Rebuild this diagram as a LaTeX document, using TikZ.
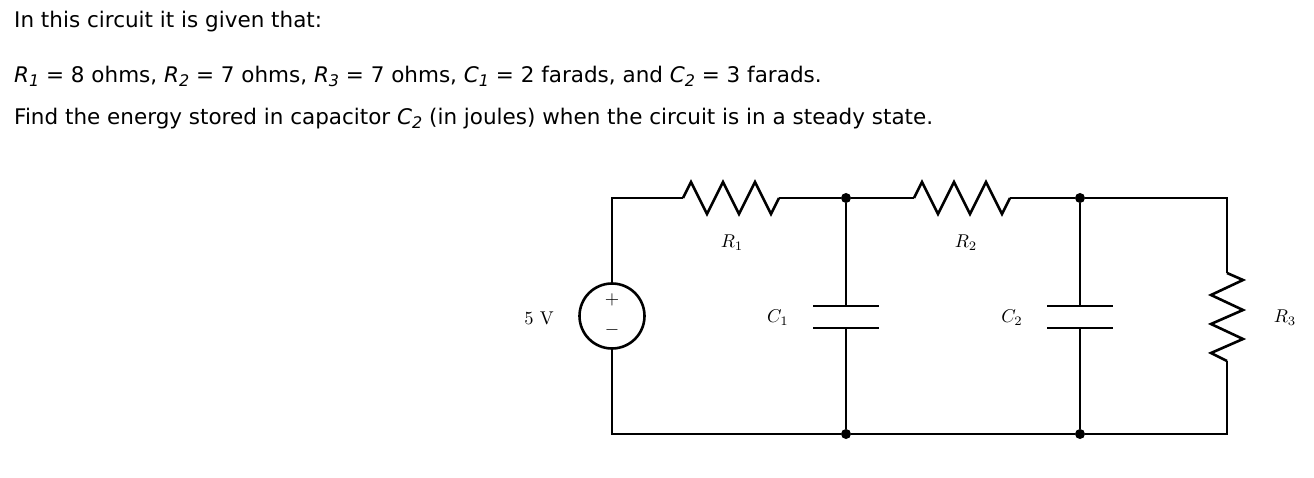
\documentclass[tikz,border=0pt]{standalone}
\usepackage{fontspec}
\newfontfamily\qfont{DejaVu Sans}
\begin{document}
\begin{tikzpicture}[x=1pt,y=-1pt,
  wire/.style={line width=1.6pt},
  thick el/.style={line width=2.6pt},
  dot/.style={circle,fill=black,inner sep=0pt,minimum size=10pt},
  qtxt/.style={anchor=west,inner sep=0pt,font=\qfont\fontsize{21.5}{24}\selectfont},
  lab/.style={inner sep=0pt,scale=1.85,transform shape},
  hres/.pic={\draw[thick el,line join=miter] (0,0)--(8,-16)--(24,16)--(40,-16)--(56,16)--(72,-16)--(88,16)--(96,0);},
  vres/.pic={\draw[thick el,line join=miter] (0,0)--(16,7)--(-16,22)--(16,37)--(-16,51)--(16,66)--(-16,80)--(0,88);}
]
\useasboundingbox (0,0) rectangle (1314,478);
\newcommand\qsub[1]{\raisebox{-4pt}{\fontsize{16}{18}\selectfont #1}}
\node[qtxt] (t1) at (14,22) {In this circuit it is given that:};
\node[qtxt] (t2) at (14,76) {\textit{R\qsub{1}} = 8 ohms, \textit{R\qsub{2}} = 7 ohms, \textit{R\qsub{3}} = 7 ohms, \textit{C\qsub{1}} = 2 farads, and \textit{C\qsub{2}} = 3 farads.};
\node[qtxt] (t3) at (14,119) {Find the energy stored in capacitor \textit{C\qsub{2}} (in joules) when the circuit is in a steady state.};

\coordinate (tl) at (612,198); \coordinate (bl) at (612,434);
\coordinate (tr) at (1227,198); \coordinate (br) at (1227,434);
\node[dot] (n1) at (846,198) {}; \node[dot] (n2) at (1080,198) {};
\node[dot] (n3) at (846,434) {}; \node[dot] (n4) at (1080,434) {};
\node[circle,draw,line width=2.6pt,minimum size=65pt,inner sep=0pt] (src) at (612,316) {};
\node[lab] (pl) at (612,300) {$+$};
\node[lab] (mi) at (612,330) {$-$};
\coordinate (r1a) at (683,198); \coordinate (r1b) at (779,198);
\coordinate (r2a) at (914,198); \coordinate (r2b) at (1010,198);
\coordinate (r3a) at (1227,273); \coordinate (r3b) at (1227,361);
\pic at (r1a) {hres}; \pic at (r2a) {hres}; \pic at (r3a) {vres};
\coordinate (c1a) at (846,306); \coordinate (c1b) at (846,328);
\coordinate (c2a) at (1080,306); \coordinate (c2b) at (1080,328);
\draw[thick el] (813,306)--(879,306) (813,328)--(879,328);
\draw[thick el] (1047,306)--(1113,306) (1047,328)--(1113,328);

\draw[wire] (src.north)--(tl)--(r1a) (r1b)--(n1)--(r2a) (r2b)--(n2)--(tr)--(r3a)
  (r3b)--(br)--(n4)--(n3)--(bl)--(src.south)
  (n1)--(c1a) (c1b)--(n3) (n2)--(c2a) (c2b)--(n4);

\node[lab] (l1) at (732,243) {$R_1$};
\node[lab] (l2) at (966,243) {$R_2$};
\node[lab] (l3) at (778,318) {$C_1$};
\node[lab] (l4) at (1012,318) {$C_2$};
\node[lab] (l5) at (539,318) {5 V};
\node[lab] (l6) at (1285,318) {$R_3$};
\end{tikzpicture}
\end{document}
